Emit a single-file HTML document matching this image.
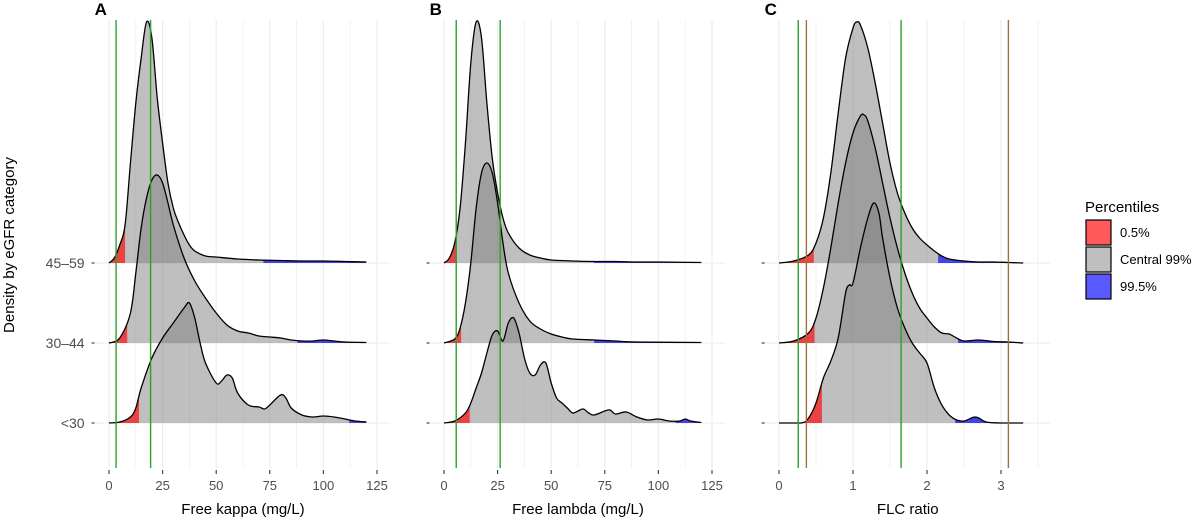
<!DOCTYPE html>
<html><head><meta charset="utf-8"><style>
body{margin:0;background:#fff;}
svg text{font-family:"Liberation Sans",Arial,sans-serif;}
</style></head><body>
<svg id="chart" width="1200" height="520" viewBox="0 0 1200 520" xmlns="http://www.w3.org/2000/svg"></svg>
<script>
// ---- data ----
const categories = ["45–59","30–44","<30"];
const panelLetters = ["A","B","C"];
const axisTitles = ["Free kappa (mg/L)","Free lambda (mg/L)","FLC ratio"];
const tickLabelsAB = [0,25,50,75,100,125];
const tickLabelsC = [0,1,2,3];
// Panel A kappa
const kappaX_4559 = [0,2.5,5,7.5,10,12.5,15,17.5,20,22.5,25,27.5,30,32.5,35,37.5,40,45,50,60,70,80,90,100,110,120];
const kappaY_4559 = [0,5,18,38,100,160,205,241,225,165,120,80,55,40,28,18,12,7,6,4,3,2.5,2,2,1.5,1];
const kappaX_3044 = [0,5,10,12.5,15,17.5,20,22.5,25,27.5,30,35,40,45,50,55,60,65,70,75,80,85,90,95,100,105,110,120];
const kappaY_3044 = [0,5,30,70,115,145,163,168,160,140,118,85,62,45,30,18,12,10,7,6,5,3,2,2,3,2,1,0.5];
const kappaX_lt30 = [0,5,10,12.5,15,20,25,30,35,37.5,40,42.5,45,50,52.5,55,57.5,60,65,70,72.5,75,80,82.5,85,90,95,100,105,110,115,120];
const kappaY_lt30 = [0,1,6,15,35,65,85,100,115,120,105,80,60,40,42,48,45,30,18,16,14,18,28,25,15,8,6,7,6,4,2,1];
// Panel B lambda
const lambdaX_4559 = [0,2.5,5,7.5,10,12.5,15,17.5,20,22.5,25,27.5,30,35,40,45,50,60,70,80,90,100,120];
const lambdaY_4559 = [0,5,20,55,120,200,241,225,160,105,70,45,30,15,8,5,3,2,1.5,1.5,1,1,0.5];
const lambdaX_3044 = [0,5,7.5,10,12.5,15,17.5,20,22.5,25,27.5,30,35,40,45,50,55,60,70,80,90,120];
const lambdaY_3044 = [0,4,15,40,80,135,170,180,170,140,100,70,40,22,14,9,6,4,3,2,1,0.5];
const lambdaX_lt30 = [0,5,10,12.5,15,17.5,20,22.5,25,27.5,30,32.5,35,37.5,40,42.5,45,47.5,50,52.5,55,57.5,60,62.5,65,67.5,70,75,77.5,80,85,90,95,100,105,110,112.5,115,120];
const lambdaY_lt30 = [0,2,10,20,35,50,70,88,92,82,100,105,90,65,50,48,58,60,40,25,20,15,10,12,14,10,8,12,13,9,11,6,3,4,2,2,4,2,0.5];
// Panel C ratio
const ratioX_4559 = [0,0.2,0.4,0.5,0.6,0.7,0.8,0.9,1.0,1.05,1.1,1.2,1.3,1.4,1.5,1.6,1.7,1.8,1.9,2.0,2.1,2.2,2.3,2.5,2.7,2.9,3.1,3.3];
const ratioY_4559 = [0,2,8,20,45,90,150,205,235,241,238,215,180,140,100,70,50,35,25,18,12,7,4,2,1,1,0.5,0];
const ratioX_3044 = [0,0.2,0.4,0.5,0.6,0.7,0.8,0.9,1.0,1.1,1.15,1.2,1.3,1.4,1.5,1.6,1.7,1.8,1.9,2.0,2.1,2.2,2.3,2.4,2.5,2.7,2.9,3.1,3.3];
const ratioY_3044 = [0,2,10,25,55,95,140,180,210,227,228,222,195,160,125,95,70,50,35,25,16,10,9,5,2,3,1.5,1,0];
const ratioX_lt30 = [0,0.3,0.4,0.5,0.6,0.7,0.8,0.9,0.95,1.0,1.1,1.2,1.28,1.35,1.4,1.5,1.6,1.7,1.8,1.9,2.0,2.1,2.2,2.3,2.4,2.5,2.6,2.65,2.7,2.8,3.0,3.3];
const ratioY_lt30 = [0,0,5,20,45,62,85,130,138,140,175,205,220,210,185,145,115,95,80,70,60,35,18,8,3,2,5,6,5,1,0,0];
// percentile cutoffs [low, high] per row
const kappaCuts = [[7.5,72],[8.5,88],[14,112]];
const lambdaCuts = [[6,70],[8,70],[12,108]];
const ratioCuts = [[0.47,2.15],[0.48,2.42],[0.58,2.38]];
// reference lines
const kappaRefs = [3.3,19.4];
const lambdaRefs = [5.7,26.2];
const ratioRefsGreen = [0.26,1.65];
const ratioRefsBrown = [0.37,3.1];
const legendLabels = ["0.5%","Central 99%","99.5%"];

// ---- layout ----
const NS="http://www.w3.org/2000/svg";
const svg=document.getElementById('chart');
function el(tag,attrs,parent){const e=document.createElementNS(NS,tag);for(const k in attrs)e.setAttribute(k,attrs[k]);(parent||svg).appendChild(e);return e;}
const baselines=[263,343,423];
const yScale=1; // px per density unit
const panelTop=20, panelBottom=468;
const panels=[
 {x0:109,ppu:268/125,min:-6.25,max:131.25,major:25,minor:12.5,ticks:tickLabelsAB,
  series:[[kappaX_4559,kappaY_4559],[kappaX_3044,kappaY_3044],[kappaX_lt30,kappaY_lt30]],cuts:kappaCuts,
  refs:[[kappaRefs,'#2ca02c']]},
 {x0:444,ppu:268/125,min:-6.25,max:131.25,major:25,minor:12.5,ticks:tickLabelsAB,
  series:[[lambdaX_4559,lambdaY_4559],[lambdaX_3044,lambdaY_3044],[lambdaX_lt30,lambdaY_lt30]],cuts:lambdaCuts,
  refs:[[lambdaRefs,'#2ca02c']]},
 {x0:779,ppu:74,min:-0.18,max:3.66,major:1,minor:0.5,ticks:tickLabelsC,
  series:[[ratioX_4559,ratioY_4559],[ratioX_3044,ratioY_3044],[ratioX_lt30,ratioY_lt30]],cuts:ratioCuts,
  refs:[[ratioRefsGreen,'#2ca02c'],[ratioRefsBrown,'#a0703a']]}
];
function spline(pts,base){
  let d=`M${pts[0][0]},${pts[0][1]}`;
  for(let i=0;i<pts.length-1;i++){
    const p0=pts[Math.max(i-1,0)],p1=pts[i],p2=pts[i+1],p3=pts[Math.min(i+2,pts.length-1)];
    const t=1/6;
    const c1y=Math.min(base,p1[1]+(p2[1]-p0[1])*t), c2y=Math.min(base,p2[1]-(p3[1]-p1[1])*t);
    d+=` C${p1[0]+(p2[0]-p0[0])*t},${c1y} ${p2[0]-(p3[0]-p1[0])*t},${c2y} ${p2[0]},${p2[1]}`;
  }
  return d;
}
let clipId=0;
panels.forEach((p,pi)=>{
  const X=v=>p.x0+v*p.ppu;
  const left=X(p.min), right=X(p.max);
  const g=el('g',{});
  
  
  for(let v=0;v<=p.max+1e-9;v+=p.minor){
    const ln=el('line',{x1:X(v),x2:X(v),y1:panelTop,y2:panelBottom,stroke:'#ebebeb','stroke-width':Math.abs(v/p.major-Math.round(v/p.major))<1e-6?1.1:0.6},g);
    
    
  }
  baselines.forEach((b,i)=>{
    const ln=el('line',{x1:left,x2:right,y1:b,y2:b,stroke:'#ebebeb','stroke-width':1.1},g);
    
    
    const tk=el('line',{x1:left-4,x2:left-1,y1:b,y2:b,stroke:'#333','stroke-width':1.1},g);
    
    
    if(pi===0){
      const t=el('text',{x:left-11,y:b+5,'text-anchor':'end','font-size':14,fill:'#4d4d4d'},g);
      t.textContent=categories[i];
      
      
    }
  });
  p.series.forEach((s,i)=>{
    const b=baselines[i];
    const pts=s[0].map((x,k)=>[X(x),b-s[1][k]*yScale]);
    const curve=spline(pts,b);
    const area=curve+` L${pts[pts.length-1][0]},${b} L${pts[0][0]},${b} Z`;
    const sg=el('g',{},g);
    
    
    const a=el('path',{d:area,fill:'rgba(128,128,128,0.5)'},sg);
    
    
    const [lo,hi]=p.cuts[i];
    [[X(p.min)-20,X(lo),'rgba(255,0,0,0.65)','tail-low'],[X(hi),right+20,'rgba(0,0,255,0.65)','tail-high']].forEach(([x1,x2,c,nm])=>{
      const id='cl'+(clipId++);
      const cp=el('clipPath',{id},sg);
      el('rect',{x:x1,y:0,width:x2-x1,height:520},cp);
      const t=el('path',{d:area,fill:c,'clip-path':`url(#${id})`},sg);
      
      
    });
    const o=el('path',{d:curve,fill:'none',stroke:'#000','stroke-width':1.3},sg);
    
    
  });
  p.refs.forEach(([vals,col])=>vals.forEach(v=>{
    const ln=el('line',{x1:X(v),x2:X(v),y1:panelTop,y2:panelBottom,stroke:col,'stroke-width':1.4},g);
    
    
  }));
  p.ticks.forEach(v=>{
    const tk=el('line',{x1:X(v),x2:X(v),y1:panelBottom+2,y2:panelBottom+6,stroke:'#333','stroke-width':1.1},g);
    
    
    const t=el('text',{x:X(v),y:panelBottom+22,'text-anchor':'middle','font-size':13,fill:'#4d4d4d'},g);
    t.textContent=v;
    
    
  });
  const at=el('text',{x:(left+right)/2,y:514,'text-anchor':'middle','font-size':15,fill:'#000'},g);
  at.textContent=axisTitles[pi];
  
  
  const lt=el('text',{x:left-1,y:15,'font-size':17,'font-weight':'bold',fill:'#000'},g);
  lt.textContent=panelLetters[pi];
  
  
});
const yt=el('text',{x:0,y:0,transform:'translate(14,245) rotate(-90)','text-anchor':'middle','font-size':15,fill:'#000'});
yt.textContent='Density by eGFR category';


const lg=el('g',{});


const ltt=el('text',{x:1085,y:212,'font-size':15,fill:'#000'},lg);
ltt.textContent='Percentiles';


const legCols=['rgba(255,0,0,0.65)','rgba(128,128,128,0.5)','rgba(0,0,255,0.65)'];
legendLabels.forEach((lab,i)=>{
  const y=219+i*27;
  const r=el('rect',{x:1086,y:y+1,width:25,height:25,fill:legCols[i],stroke:'#000','stroke-width':1.2},lg);
  
  
  const t=el('text',{x:1120,y:y+18,'font-size':13,fill:'#000'},lg);
  t.textContent=lab;
  
  
});
</script>
</body></html>
